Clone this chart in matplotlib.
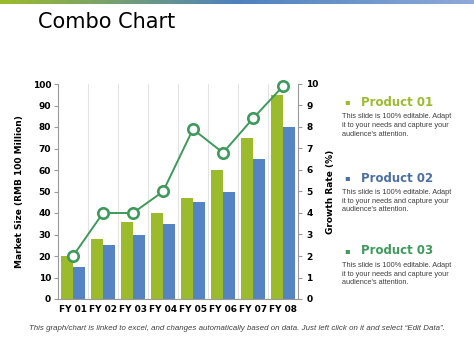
import matplotlib.pyplot as plt
import numpy as np
from matplotlib.colors import LinearSegmentedColormap

categories = ['FY 01', 'FY 02', 'FY 03', 'FY 04', 'FY 05', 'FY 06', 'FY 07', 'FY 08']
product1 = [20, 28, 36, 40, 47, 60, 75, 95]
product2 = [15, 25, 30, 35, 45, 50, 65, 80]
growth = [2, 4, 4, 5, 7.9, 6.8, 8.4, 9.9]

green = '#9BBB2C'
blue = '#5584C4'
line_green = '#3E9A5A'
grey_txt = '#404040'

fig = plt.figure(figsize=(4.74, 3.55), dpi=100)
W, H = 474, 355

# gradient strip at the top
strip = fig.add_axes([0, 1 - 4 / H, 1, 4 / H])
cmap = LinearSegmentedColormap.from_list('hdr', [green, '#4F81BD', '#8FA9D8'])
strip.imshow(np.linspace(0, 1, 256)[None, :], aspect='auto', cmap=cmap)
strip.axis('off')

fig.text(38 / W, 1 - 22 / H, 'Combo Chart', fontsize=15, va='center', ha='left', color='black')

# main axes: x 58..298 px, y 84..299 px
ax = fig.add_axes([58 / W, 1 - 299 / H, 240 / W, 215 / H])
x = np.arange(len(categories))
bw = 0.41
ax.bar(x - bw / 2, product1, bw, color=green, zorder=2)
ax.bar(x + bw / 2, product2, bw, color=blue, zorder=2)
ax.set_xlim(-0.5, len(categories) - 0.5)
ax.set_ylim(0, 100)
ax.set_yticks(range(0, 101, 10))
ax.set_xticks(x)
ax.set_xticklabels(categories)
for b in np.arange(0.5, len(categories) - 0.5, 1):
    ax.axvline(b, color='#E3E3E3', lw=0.8, zorder=0)
for s in ['top', 'right']:
    ax.spines[s].set_visible(False)
for s in ['left', 'bottom']:
    ax.spines[s].set_color('#999999')
ax.tick_params(axis='y', length=3, color='#999999', labelsize=6.5, pad=2)
ax.tick_params(axis='x', length=0, labelsize=6.5, pad=4)
for lab in ax.get_xticklabels() + ax.get_yticklabels():
    lab.set_fontweight('bold')
ax.set_ylabel('Market Size (RMB 100 Million)', fontsize=6.5, fontweight='bold', labelpad=6)

ax2 = ax.twinx()
ax2.plot(x, growth, color=line_green, lw=1.4, marker='o', markersize=7.5,
         markerfacecolor='white', markeredgecolor=line_green, markeredgewidth=1.9, zorder=5,
         clip_on=False)
ax2.set_ylim(0, 10)
ax2.set_yticks(range(0, 11))
for s in ['top', 'left', 'bottom']:
    ax2.spines[s].set_visible(False)
ax2.spines['right'].set_color('#999999')
ax2.tick_params(axis='y', length=3, color='#999999', labelsize=6.5, pad=3)
for lab in ax2.get_yticklabels():
    lab.set_fontweight('bold')
ax2.set_ylabel('Growth Rate (%)', fontsize=6.5, fontweight='bold', labelpad=5)

# legend panel on the right
desc = "This slide is 100% editable. Adapt\nit to your needs and capture your\naudience's attention."
items = [('Product 01', green, 102), ('Product 02', '#4A6FA5', 178), ('Product 03', '#3E9A5A', 251)]
for name, col, yy in items:
    fig.text(344 / W, 1 - yy / H, '\u25aa', color=col, fontsize=6, va='center', ha='left')
    fig.text(361 / W, 1 - yy / H, name, color=col, fontsize=8.5, fontweight='bold', va='center', ha='left')
    fig.text(342 / W, 1 - (yy + 11) / H, desc, color=grey_txt, fontsize=5.3, va='top', ha='left',
             family='Liberation Sans', linespacing=1.35)

fig.text(237 / W, 1 - 329 / H,
         'This graph/chart is linked to excel, and changes automatically based on data. Just left click on it and select \u201cEdit Data\u201d.',
         fontsize=5.65, style='italic', color=grey_txt, ha='center', va='center', family='Liberation Sans')

fig.savefig('out.png', dpi=100)
